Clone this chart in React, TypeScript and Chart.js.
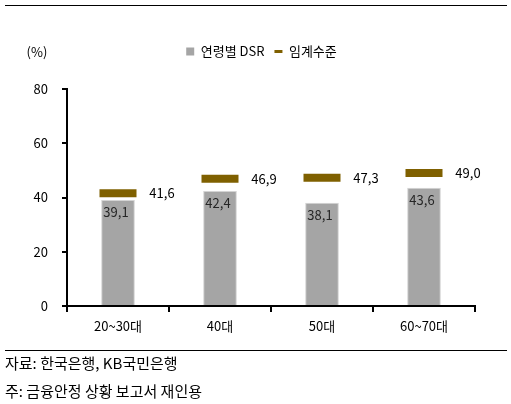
import React, { useEffect, useRef } from "react";
import { Chart, registerables } from "chart.js";

Chart.register(...registerables);

const categories = ["20~30대", "40대", "50대", "60~70대"];
const dsrValues = [39.1, 42.4, 38.1, 43.6];
const thresholdValues = [41.6, 46.9, 47.3, 49.0];
const yTicks = [0, 20, 40, 60, 80];
const seriesNames = ["연령별 DSR", "임계수준"];
const unitLabel = "(%)";
const sourceLines = ["자료: 한국은행, KB국민은행", "주: 금융안정 상황 보고서 재인용"];

const FONT = "'Noto Sans CJK KR', 'Noto Sans', sans-serif";
const BAR_COLOR = "#A5A5A5";
const BAR_BORDER = "#D4D4D4";
const MARK_COLOR = "#7F6000";

const fmt = (v: number) => v.toFixed(1).replace(".", ",");

export default function App() {
  const ref = useRef<HTMLCanvasElement | null>(null);

  useEffect(() => {
    if (!ref.current) return;
    const legendTweak = {
      id: "legendTweak",
      beforeInit(chart: any) {
        const lg = chart.legend;
        if (lg) {
          const orig = lg.fit;
          lg.fit = function () {
            orig.call(this);
            this.height += 21;
          };
        }
      },
      afterLayout(chart: any) {
        const lg = chart.legend;
        if (lg) {
          lg.left += 24;
          lg.right += 24;
        }
      },
    };
    const labelPlugin = {
      id: "valueLabels",
      afterDatasetsDraw(chart: any) {
        const ctx = chart.ctx;
        ctx.save();
        ctx.font = `13px ${FONT}`;
        ctx.textBaseline = "middle";
        const m0 = chart.getDatasetMeta(0);
        m0.data.forEach((el: any, i: number) => {
          ctx.fillStyle = "#262626";
          ctx.textAlign = "center";
          ctx.fillText(fmt(dsrValues[i]), el.x - 2, el.y + 12);
        });
        const m1 = chart.getDatasetMeta(1);
        m1.data.forEach((el: any, i: number) => {
          ctx.fillStyle = "#000";
          ctx.textAlign = "center";
          ctx.fillText(fmt(thresholdValues[i]), el.x + 44, el.y);
        });
        ctx.fillStyle = "#000";
        ctx.textAlign = "center";
        ctx.fillText(unitLabel, 37, 52);
        ctx.restore();
      },
    };

    const chart = new Chart(ref.current, {
      type: "bar",
      data: {
        labels: categories,
        datasets: [
          {
            type: "bar",
            label: seriesNames[0],
            data: dsrValues,
            backgroundColor: BAR_COLOR,
            borderColor: BAR_BORDER,
            borderWidth: 1,
            barPercentage: 0.66,
            categoryPercentage: 0.5,
            order: 2,
          },
          {
            type: "line",
            label: seriesNames[1],
            data: thresholdValues,
            showLine: false,
            pointStyle: "line",
            pointRadius: 18.5,
            pointHoverRadius: 18.5,
            pointBorderWidth: 8,
            pointBorderColor: MARK_COLOR,
            pointBackgroundColor: MARK_COLOR,
            borderColor: MARK_COLOR,
            backgroundColor: MARK_COLOR,
            order: 1,
          } as any,
        ],
      },
      options: {
        animation: false,
        responsive: false,
        devicePixelRatio: 1,
        layout: { padding: { left: 0, right: 36, top: 35, bottom: 68 } },
        plugins: {
          tooltip: { enabled: false },
          legend: {
            display: true,
            position: "top",
            labels: {
              usePointStyle: true,
              pointStyleWidth: 8,
              boxHeight: 8,
              padding: 10,
              color: "#000",
              font: { family: FONT, size: 13 },
              generateLabels: () => [
                {
                  text: seriesNames[0],
                  fillStyle: BAR_COLOR,
                  strokeStyle: BAR_COLOR,
                  lineWidth: 0,
                  pointStyle: "rect",
                  hidden: false,
                  datasetIndex: 0,
                  fontColor: "#000",
                },
                {
                  text: seriesNames[1],
                  fillStyle: MARK_COLOR,
                  strokeStyle: MARK_COLOR,
                  lineWidth: 3,
                  pointStyle: "line",
                  hidden: false,
                  datasetIndex: 1,
                  fontColor: "#000",
                },
              ] as any,
            },
          },
        },
        scales: {
          x: {
            type: "category",
            offset: true,
            afterFit: (s: any) => {
              s.height = 30;
            },
            grid: {
              display: true,
              offset: true,
              drawOnChartArea: false,
              drawTicks: true,
              tickLength: 6,
              color: "#000",
              lineWidth: 2,
            },
            border: { display: true, color: "#000", width: 2 },
            ticks: {
              color: "#000",
              padding: 6,
              font: { family: FONT, size: 13 },
            },
          },
          y: {
            min: yTicks[0],
            max: yTicks[yTicks.length - 1],
            afterFit: (s: any) => {
              s.width = 67;
            },
            afterBuildTicks: (s: any) => {
              s.ticks = yTicks.map((v) => ({ value: v }));
            },
            grid: {
              display: true,
              drawOnChartArea: false,
              drawTicks: true,
              tickLength: 5,
              color: "#000",
              lineWidth: 2,
            },
            border: { display: true, color: "#000", width: 2 },
            ticks: {
              color: "#000",
              padding: 14,
              font: { family: FONT, size: 13 },
            },
          },
        },
      },
      plugins: [legendTweak, labelPlugin],
    });
    return () => chart.destroy();
  }, []);

  return (
    <div
      style={{
        position: "absolute",
        left: 0,
        top: 0,
        width: 511,
        height: 404,
        background: "#fff",
        fontFamily: FONT,
      }}
    >
      <canvas ref={ref} width={511} height={404} style={{ position: "absolute", left: 0, top: 0 }} />
      <div style={{ position: "absolute", left: 5, top: 5, width: 502, height: 0, borderTop: "1.5px solid #000" }} />
      <div style={{ position: "absolute", left: 5, top: 350, width: 502, height: 0, borderTop: "1.5px solid #000" }} />
      <div style={{ position: "absolute", left: 5, top: 353, fontSize: 15, lineHeight: "20px", color: "#000", whiteSpace: "nowrap" }}>
        {sourceLines[0]}
      </div>
      <div style={{ position: "absolute", left: 5, top: 381, fontSize: 15, lineHeight: "20px", color: "#000", whiteSpace: "nowrap" }}>
        {sourceLines[1]}
      </div>
    </div>
  );
}
